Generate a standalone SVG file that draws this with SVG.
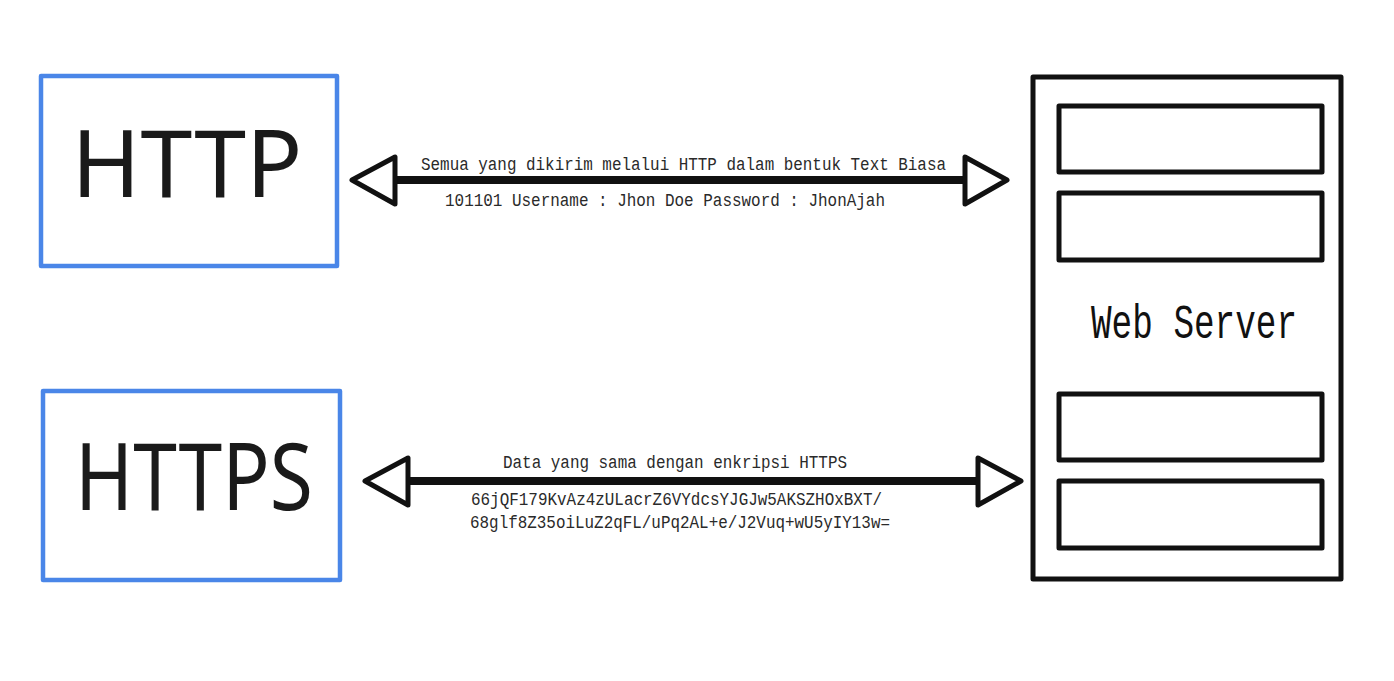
<svg xmlns="http://www.w3.org/2000/svg" width="1394" height="681" viewBox="0 0 1394 681">
<style>
.client{fill:#fff;stroke:#4a86e8;stroke-width:4.5;stroke-linejoin:round}
.big{font-family:"Noto Sans","Open Sans",sans-serif;font-size:94px;fill:#1a1a1a}
.srv{fill:#fff;stroke:#111;stroke-width:5;stroke-linejoin:round}
.mono{font-family:"Liberation Mono","DejaVu Sans Mono",monospace;font-size:19px;fill:#2a2a2a}
.shaft{stroke:#111;stroke-width:8;fill:none}
.head{fill:#fff;stroke:#111;stroke-width:5;stroke-linejoin:round}
</style>
<rect width="1394" height="681" fill="#fff"/>
<g id="http">
<rect class="client" x="41" y="76" width="296" height="190"/>
<text class="big" x="187" y="197" text-anchor="middle" textLength="231" lengthAdjust="spacingAndGlyphs">HTTP</text>
</g>
<g id="https">
<rect class="client" x="43" y="391" width="297" height="189"/>
<text class="big" x="194" y="510" text-anchor="middle" textLength="238" lengthAdjust="spacingAndGlyphs">HTTPS</text>
</g>
<g id="webserver">
<rect class="srv" x="1033" y="77" width="308" height="502"/>
<rect class="srv" x="1059" y="106" width="263" height="66"/>
<rect class="srv" x="1059" y="193" width="263" height="67"/>
<rect class="srv" x="1059" y="394" width="263" height="66"/>
<rect class="srv" x="1059" y="481" width="263" height="67"/>
<text x="1194" y="338" text-anchor="middle" font-family="Liberation Mono, DejaVu Sans Mono, monospace" font-size="49" fill="#111" textLength="206" lengthAdjust="spacingAndGlyphs">Web Server</text>
</g>
<g id="connectors">
<line class="shaft" x1="395" y1="180" x2="966" y2="180"/>
<polygon class="head" points="352,180 395,157 395,204"/>
<polygon class="head" points="1007,180 965,157 965,204"/>
<line class="shaft" x1="408" y1="481" x2="979" y2="481"/>
<polygon class="head" points="365,481 408,458 408,505"/>
<polygon class="head" points="1021,481 978,458 978,505"/>
</g>
<g id="labels">
<text class="mono" x="421" y="170" textLength="525" lengthAdjust="spacingAndGlyphs">Semua yang dikirim melalui HTTP dalam bentuk Text Biasa</text>
<text class="mono" x="445" y="206" textLength="440" lengthAdjust="spacingAndGlyphs">101101 Username : Jhon Doe Password : JhonAjah</text>
<text class="mono" x="503" y="468" textLength="344" lengthAdjust="spacingAndGlyphs">Data yang sama dengan enkripsi HTTPS</text>
<text class="mono" x="471" y="505" textLength="411" lengthAdjust="spacingAndGlyphs">66jQF179KvAz4zULacrZ6VYdcsYJGJw5AKSZHOxBXT/</text>
<text class="mono" x="470" y="528" textLength="420" lengthAdjust="spacingAndGlyphs">68glf8Z35oiLuZ2qFL/uPq2AL+e/J2Vuq+wU5yIY13w=</text>
</g>
</svg>
